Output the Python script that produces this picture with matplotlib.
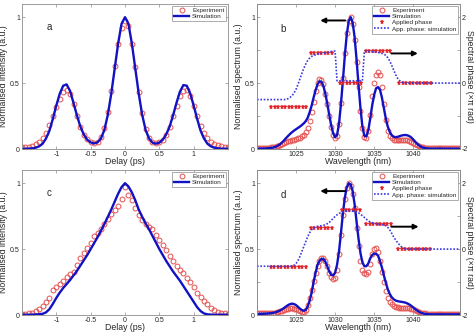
import numpy as np
import matplotlib
matplotlib.use("Agg")
import matplotlib.pyplot as plt
from matplotlib.lines import Line2D
from matplotlib.ticker import FixedLocator

plt.rcParams['font.family'] = ['Liberation Sans', 'DejaVu Sans']
plt.rcParams['axes.unicode_minus'] = False

# ---------------- data ----------------
# autocorrelation traces, sampled every 0.05 ps from -1.5 to 1.5 ps
delay_ps = np.linspace(-1.5, 1.5, 61)

sim_a = [0.002, 0.002, 0.003, 0.005, 0.01, 0.02, 0.04, 0.08, 0.14, 0.23,
         0.33, 0.42, 0.48, 0.49, 0.44, 0.35, 0.255, 0.17, 0.11, 0.07,
         0.05, 0.042, 0.05, 0.08, 0.145, 0.26, 0.42, 0.61, 0.80, 0.95,
         1.00,
         0.95, 0.80, 0.61, 0.42, 0.26, 0.145, 0.08, 0.048, 0.040, 0.048,
         0.07, 0.11, 0.17, 0.255, 0.35, 0.435, 0.485, 0.48, 0.42, 0.33,
         0.23, 0.14, 0.08, 0.04, 0.02, 0.01, 0.005, 0.003, 0.002, 0.002]

exp_a = [0.012, 0.014, 0.018, 0.025, 0.038, 0.055, 0.085, 0.125, 0.18, 0.25,
         0.32, 0.38, 0.43, 0.45, 0.42, 0.34, 0.25, 0.17, 0.11, 0.075,
         0.055, 0.047, 0.055, 0.09, 0.16, 0.28, 0.44, 0.63, 0.80, 0.92,
         0.97,
         0.93, 0.80, 0.62, 0.43, 0.27, 0.15, 0.085, 0.055, 0.045, 0.05,
         0.07, 0.11, 0.17, 0.25, 0.33, 0.40, 0.44, 0.445, 0.40, 0.33,
         0.25, 0.175, 0.12, 0.08, 0.055, 0.04, 0.028, 0.02, 0.015, 0.012]

sim_c = [0.002, 0.002, 0.002, 0.003, 0.004, 0.006, 0.009, 0.02, 0.045, 0.085,
         0.13, 0.17, 0.205, 0.235, 0.265, 0.30, 0.335, 0.375, 0.415, 0.455,
         0.50, 0.545, 0.59, 0.64, 0.69, 0.745, 0.80, 0.86, 0.92, 0.97,
         1.00,
         0.975, 0.93, 0.87, 0.80, 0.745, 0.695, 0.65, 0.60, 0.55, 0.50,
         0.455, 0.41, 0.37, 0.33, 0.295, 0.26, 0.22, 0.18, 0.14, 0.10,
         0.06, 0.03, 0.012, 0.005, 0.003, 0.002, 0.002, 0.002, 0.002, 0.002]

exp_c = [0.008, 0.01, 0.012, 0.018, 0.028, 0.045, 0.07, 0.10, 0.13, 0.19,
         0.21, 0.235, 0.26, 0.29, 0.31, 0.33, 0.38, 0.43, 0.47, 0.51,
         0.55, 0.60, 0.625, 0.65, 0.69, 0.73, 0.77, 0.80, 0.83, 0.88,
         0.97,
         0.91, 0.87, 0.81, 0.76, 0.72, 0.69, 0.67, 0.65, 0.61, 0.57,
         0.53, 0.49, 0.45, 0.41, 0.37, 0.34, 0.32, 0.28, 0.25, 0.21,
         0.17, 0.14, 0.11, 0.08, 0.055, 0.037, 0.025, 0.018, 0.013, 0.01]

# spectra and phase, sampled every 0.25 nm from 1020 to 1046 nm
wavelength_nm = np.linspace(1020, 1046, 105)

sim_b = [0.003, 0.003, 0.003, 0.004, 0.004, 0.005, 0.006, 0.008,
         0.010, 0.014, 0.020, 0.028, 0.038, 0.052, 0.068, 0.085,
         0.100, 0.115, 0.128, 0.140, 0.150, 0.160, 0.170, 0.182,
         0.195, 0.212, 0.238, 0.28, 0.33, 0.39, 0.445, 0.49,
         0.513, 0.51, 0.48, 0.42, 0.345, 0.26, 0.18, 0.12,
         0.09, 0.105, 0.19, 0.34, 0.52, 0.71, 0.87, 0.97,
         1.00, 0.96, 0.85, 0.68, 0.49, 0.31, 0.17, 0.10,
         0.095, 0.14, 0.23, 0.33, 0.41, 0.46, 0.47, 0.45,
         0.39, 0.31, 0.23, 0.17, 0.13, 0.105, 0.093, 0.09,
         0.092, 0.097, 0.102, 0.105, 0.106, 0.104, 0.098, 0.088,
         0.073, 0.056, 0.040, 0.027, 0.017, 0.011, 0.007, 0.005,
         0.004, 0.003, 0.003, 0.003, 0.003, 0.003, 0.003, 0.003,
         0.003, 0.003, 0.003, 0.003, 0.003, 0.003, 0.003, 0.003,
         0.003]

exp_b = [0.008, 0.008, 0.009, 0.009, 0.010, 0.010, 0.011, 0.012,
         0.014, 0.016, 0.020, 0.025, 0.030, 0.036, 0.043, 0.050,
         0.057, 0.063, 0.068, 0.072, 0.076, 0.080, 0.086, 0.095,
         0.108, 0.128, 0.16, 0.21, 0.28, 0.36, 0.44, 0.50,
         0.53, 0.525, 0.49, 0.42, 0.34, 0.25, 0.17, 0.11,
         0.08, 0.10, 0.19, 0.35, 0.54, 0.73, 0.88, 0.97,
         1.00, 0.95, 0.83, 0.66, 0.47, 0.29, 0.16, 0.09,
         0.085, 0.14, 0.26, 0.40, 0.50, 0.56, 0.585, 0.565,
         0.47, 0.34, 0.22, 0.14, 0.10, 0.08, 0.072, 0.068,
         0.066, 0.066, 0.067, 0.068, 0.068, 0.066, 0.062, 0.055,
         0.046, 0.036, 0.027, 0.020, 0.015, 0.012, 0.010, 0.009,
         0.008, 0.008, 0.008, 0.008, 0.008, 0.008, 0.008, 0.008,
         0.007, 0.007, 0.007, 0.007, 0.007, 0.007, 0.007, 0.007,
         0.007]

phase_sim_b = [-0.5, -0.5, -0.5, -0.5, -0.5, -0.5, -0.5, -0.5,
               -0.5, -0.5, -0.5, -0.5, -0.5, -0.5, -0.5, -0.49,
               -0.47, -0.43, -0.38, -0.30, -0.19, -0.04, 0.13, 0.30,
               0.45, 0.58, 0.69, 0.76, 0.81, 0.84, 0.86, 0.88,
               0.89, 0.90, 0.91, 0.92, 0.93, 0.94, 0.96, 0.97,
               0.97, 0.07, 0.07, 0.07, 0.07, 0.07, 0.07, 0.07,
               0.07, 0.07, 0.07, 0.07, 0.07, 0.07, 0.07, 0.97,
               0.97, 0.96, 0.96, 0.95, 0.95, 0.94, 0.93, 0.92,
               0.90, 0.88, 0.84, 0.77, 0.67, 0.54, 0.40, 0.26,
               0.15, 0.08, 0.03, 0.01, 0.0, 0.0, 0.0, 0.0,
               0.0, 0.0, 0.0, 0.0, 0.0, 0.0, 0.0, 0.0,
               0.0, 0.0, 0.0, 0.0, 0.0, 0.0, 0.0, 0.0,
               0.0, 0.0, 0.0, 0.0, 0.0, 0.0, 0.0, 0.0,
               0.0]

applied_wl_b = [1021.8, 1022.25, 1022.7, 1023.15, 1023.6, 1024.05, 1024.5,
                1024.95, 1025.4, 1025.85, 1026.3,
                1026.9, 1027.35, 1027.8, 1028.25, 1028.7, 1029.15, 1029.6,
                1030.6, 1031.05, 1031.5, 1031.95, 1032.4, 1032.85, 1033.3,
                1033.9, 1034.35, 1034.8, 1035.25, 1035.7, 1036.15, 1036.6,
                1037.05,
                1038.2, 1038.65, 1039.1, 1039.55, 1040.0, 1040.45, 1040.9,
                1041.35, 1041.8, 1042.25]
applied_phase_b = [-0.72] * 11 + [0.9] * 7 + [0.0] * 7 + [0.97] * 8 + [0.0] * 10

sim_d = [0.008, 0.008, 0.009, 0.009, 0.010, 0.011, 0.012, 0.014,
         0.016, 0.019, 0.023, 0.029, 0.036, 0.045, 0.055, 0.066,
         0.076, 0.083, 0.086, 0.083, 0.075, 0.062, 0.048, 0.037,
         0.032, 0.038, 0.065, 0.11, 0.17, 0.25, 0.32, 0.38,
         0.41, 0.425, 0.425, 0.405, 0.37, 0.33, 0.305, 0.30,
         0.32, 0.38, 0.48, 0.62, 0.77, 0.89, 0.97, 1.00,
         0.99, 0.94, 0.84, 0.71, 0.58, 0.47, 0.40, 0.37,
         0.37, 0.39, 0.43, 0.455, 0.465, 0.465, 0.45, 0.41,
         0.36, 0.30, 0.245, 0.195, 0.16, 0.135, 0.12, 0.11,
         0.105, 0.102, 0.10, 0.097, 0.094, 0.088, 0.08, 0.07,
         0.058, 0.045, 0.034, 0.024, 0.017, 0.012, 0.009, 0.007,
         0.006, 0.005, 0.005, 0.005, 0.005, 0.005, 0.005, 0.005,
         0.005, 0.005, 0.005, 0.005, 0.005, 0.005, 0.005, 0.005,
         0.005]

exp_d = [0.012, 0.012, 0.012, 0.012, 0.013, 0.013, 0.014, 0.015,
         0.016, 0.018, 0.020, 0.024, 0.028, 0.033, 0.038, 0.043,
         0.047, 0.050, 0.051, 0.049, 0.045, 0.038, 0.031, 0.026,
         0.025, 0.035, 0.075, 0.13, 0.19, 0.26, 0.32, 0.375,
         0.41, 0.43, 0.43, 0.41, 0.37, 0.32, 0.285, 0.27,
         0.28, 0.34, 0.46, 0.61, 0.76, 0.88, 0.96, 1.00,
         0.98, 0.92, 0.81, 0.66, 0.52, 0.41, 0.345, 0.315,
         0.31, 0.33, 0.39, 0.46, 0.50, 0.51, 0.48, 0.41,
         0.33, 0.25, 0.18, 0.13, 0.10, 0.08, 0.068, 0.06,
         0.057, 0.056, 0.056, 0.056, 0.055, 0.054, 0.052, 0.048,
         0.042, 0.035, 0.028, 0.021, 0.017, 0.014, 0.012, 0.011,
         0.010, 0.010, 0.010, 0.010, 0.010, 0.010, 0.010, 0.010,
         0.010, 0.010, 0.010, 0.010, 0.010, 0.010, 0.010, 0.010,
         0.010]

phase_sim_d = [-0.52, -0.52, -0.52, -0.52, -0.52, -0.52, -0.52, -0.52,
               -0.52, -0.52, -0.52, -0.52, -0.52, -0.52, -0.52, -0.52,
               -0.52, -0.52, -0.52, -0.49, -0.44, -0.35, -0.22, -0.07,
               0.08, 0.23, 0.38, 0.50, 0.59, 0.64, 0.67, 0.69,
               0.70, 0.71, 0.72, 0.74, 0.77, 0.81, 0.87, 0.93,
               0.99, 1.04, 1.08, 1.11, 1.13, 1.14, 1.15, 1.16,
               1.16, 1.15, 1.14, 1.12, 1.10, 1.06, 1.01, 0.96,
               0.91, 0.86, 0.82, 0.80, 0.78, 0.77, 0.76, 0.75,
               0.74, 0.73, 0.71, 0.66, 0.58, 0.48, 0.37, 0.28,
               0.20, 0.13, 0.07, 0.03, 0.01, 0.0, 0.0, 0.0,
               0.0, 0.0, 0.0, 0.0, 0.0, 0.0, 0.0, 0.0,
               0.0, 0.0, 0.0, 0.0, 0.0, 0.0, 0.0, 0.0,
               0.0, 0.0, 0.0, 0.0, 0.0, 0.0, 0.0, 0.0,
               0.0]

applied_wl_d = [1021.75, 1022.2, 1022.65, 1023.1, 1023.55, 1024.0, 1024.45,
                1024.9, 1025.35, 1025.8, 1026.25,
                1026.9, 1027.35, 1027.8, 1028.25, 1028.7, 1029.15, 1029.6,
                1030.9, 1031.35, 1031.8, 1032.25, 1032.7, 1033.15,
                1034.0, 1034.45, 1034.9, 1035.35, 1035.8, 1036.25, 1036.7,
                1037.15,
                1038.1, 1038.55, 1039.0, 1039.45, 1039.9, 1040.35, 1040.8,
                1041.25, 1041.7, 1042.15]
applied_phase_d = [-0.55] * 11 + [0.63] * 7 + [1.2] * 6 + [0.76] * 8 + [0.0] * 10

delay_ticks = [-1, -0.5, 0, 0.5, 1]
delay_ticklabels = ['-1', '-0.5', '0', '0.5', '1']
wl_ticks = [1025, 1030, 1035, 1040]
norm_ticks = [0, 0.5, 1]
norm_ticklabels = ['0', '0.5', '1']
phase_ticks = [-2, -1, 0, 1, 2]
phase_ticklabels = ['-2', '', '0', '', '2']

# ---------------- style ----------------
EXP_C = '#e4504f'
SIM_C = '#1212c4'
PHS_C = '#3a3ae0'
APP_C = '#e0242a'
SPINE_C = '#8c8c8c'
TXT_C = '#262626'

W, H = 474, 332
fig = plt.figure(figsize=(W / 100, H / 100), dpi=100)


def box(left, top, right, bottom):
    return [left / W, 1 - bottom / H, (right - left) / W, (bottom - top) / H]


def style(ax):
    for s in ax.spines.values():
        s.set_color(SPINE_C)
        s.set_linewidth(0.6)
    ax.tick_params(direction='in', length=2.5, width=0.5, colors=SPINE_C,
                   labelcolor=TXT_C, labelsize=5, pad=1.5)
    ax.tick_params(which='minor', direction='in', length=2.5, width=0.5,
                   colors=SPINE_C)


exp_kw = dict(linestyle='none', marker='o', markersize=3.5, markerfacecolor='none',
              markeredgecolor=EXP_C, markeredgewidth=0.7)
sim_kw = dict(color=SIM_C, linewidth=1.7)
phs_kw = dict(color=PHS_C, linewidth=1.2, linestyle=(0, (1, 1)))
app_kw = dict(linestyle='none', marker='*', markersize=3.6, color=APP_C,
              markeredgewidth=0.3)


def legend(ax, handles, labels):
    leg = ax.legend(handles, labels, loc='upper right', fontsize=4.6,
                    frameon=True, fancybox=False, edgecolor=SPINE_C,
                    framealpha=1, borderpad=0.3, labelspacing=0.12,
                    handlelength=2.3, handletextpad=0.5, borderaxespad=0.25)
    leg.get_frame().set_linewidth(0.5)
    for t in leg.get_texts():
        t.set_color(TXT_C)
    return leg


h_exp = Line2D([], [], **exp_kw)
h_sim = Line2D([], [], **sim_kw)
h_app = Line2D([], [], **app_kw)
h_phs = Line2D([], [], **phs_kw)


def delay_panel(rect, exp, sim, letter):
    ax = fig.add_axes(rect)
    ax.plot(delay_ps, exp, **exp_kw)
    ax.plot(delay_ps, sim, **sim_kw)
    ax.set_xlim(-1.5, 1.5)
    ax.set_ylim(0, 1.1)
    ax.set_xticks(delay_ticks)
    ax.set_xticklabels(delay_ticklabels)
    ax.set_yticks(norm_ticks)
    ax.set_yticklabels(norm_ticklabels)
    style(ax)
    ax.tick_params(top=True, right=True)
    ax.set_xlabel('Delay (ps)', fontsize=6.3, color=TXT_C, labelpad=-0.5)
    ax.set_ylabel('Normalised intensity (a.u.)', fontsize=6.3, color=TXT_C,
                  labelpad=1.5)
    ax.text(0.12, 0.82, letter, transform=ax.transAxes, fontsize=7, color=TXT_C)
    legend(ax, [h_exp, h_sim], ['Experiment', 'Simulation'])
    return ax


def spectrum_panel(rect, exp, sim, app_wl, app_ph, phs, letter, arrows):
    ax = fig.add_axes(rect)
    ax.plot(wavelength_nm, exp, **exp_kw)
    ax.plot(wavelength_nm, sim, **sim_kw)
    ax.set_xlim(1020, 1046)
    ax.set_ylim(0, 1.1)
    ax.set_xticks(wl_ticks)
    ax.set_yticks(norm_ticks)
    ax.set_yticklabels(norm_ticklabels)
    ax.yaxis.set_minor_locator(FixedLocator([0.25, 0.75]))
    style(ax)
    ax.tick_params(top=True, right=False)
    ax.tick_params(which='minor', right=False)
    ax.set_xlabel('Wavelength (nm)', fontsize=6.3, color=TXT_C, labelpad=-0.5)
    ax.set_ylabel('Normalised spectrum (a.u.)', fontsize=6.3, color=TXT_C,
                  labelpad=1.5)
    ax.text(0.115, 0.81, letter, transform=ax.transAxes, fontsize=7, color=TXT_C)

    ax2 = ax.twinx()
    ax2.plot(app_wl, app_ph, **app_kw)
    ax2.plot(wavelength_nm, phs, **phs_kw)
    ax2.set_ylim(-2, 2.4)
    ax2.set_yticks(phase_ticks)
    ax2.set_yticklabels(phase_ticklabels)
    style(ax2)
    ax2.set_ylabel('Spectral phase (×π rad)', fontsize=6.3, color=TXT_C,
                   rotation=270, labelpad=4)
    for (x0, x1, y) in arrows:
        ax2.annotate('', xy=(x1, y), xytext=(x0, y), xycoords=ax.transData,
                     textcoords=ax.transData,
                     arrowprops=dict(arrowstyle='-|>', mutation_scale=7,
                                     lw=1.4, color='black',
                                     shrinkA=0, shrinkB=0))
    legend(ax2, [h_exp, h_sim, h_app, h_phs],
           ['Experiment', 'Simulation', 'Applied phase', 'App. phase: simulation'])
    return ax, ax2


delay_panel(box(22, 4, 228, 149), exp_a, sim_a, 'a')
delay_panel(box(22, 170, 228, 315), exp_c, sim_c, 'c')
spectrum_panel(box(257, 4, 460, 149), exp_b, sim_b, applied_wl_b, applied_phase_b,
               phase_sim_b, 'b',
               [(1031.3, 1028.1, 0.975), (1037.2, 1040.6, 0.725)])
spectrum_panel(box(257, 170, 460, 315), exp_d, sim_d, applied_wl_d, applied_phase_d,
               phase_sim_d, 'd',
               [(1031.3, 1028.1, 0.94), (1037.2, 1040.7, 0.67)])

fig.savefig('out.png', dpi=100)
